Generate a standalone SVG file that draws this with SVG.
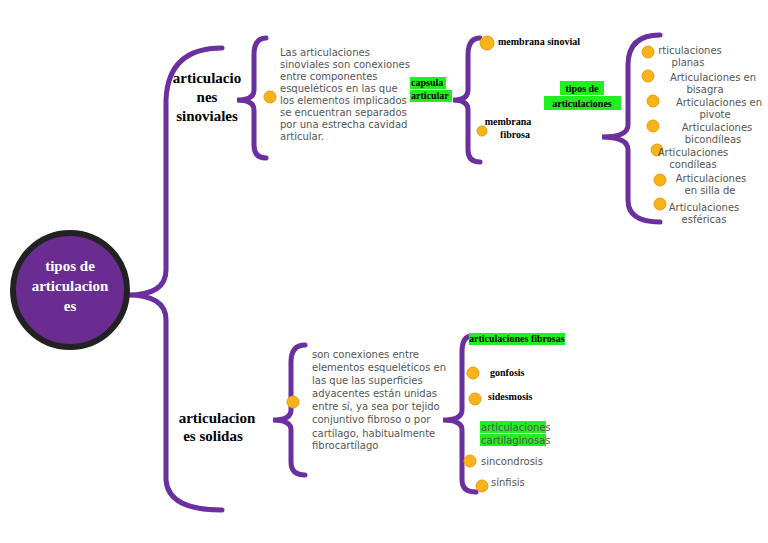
<svg xmlns="http://www.w3.org/2000/svg" width="768" height="543" viewBox="0 0 768 543">
<style>
.br{fill:none;stroke:#6b2fa0;stroke-width:5;stroke-linecap:round}
.dot{fill:#f9b31a;stroke:#e89a10;stroke-width:1}
.g{font-family:"DejaVu Sans",sans-serif;font-size:10px;fill:#555}
.b{font-family:"Liberation Serif",serif;font-weight:bold;font-size:10px;fill:#000}
.h{font-family:"Liberation Serif",serif;font-weight:bold;font-size:15px;fill:#000}
.hl{fill:#22ee22}
</style>
<rect width="768" height="543" fill="#fff"/>
<g id="connectors">
<path class="br" d="M222,48 Q168,48 166,100 L166,270 Q166,295 128,295 Q166,295 166,320 L166,480 Q168,510 222,510"/>
<path class="br" d="M266,38 Q254,38 254,55 L254,90 Q254,100 237,100 Q254,100 254,110 L254,145 Q254,158 266,158"/>
<path class="br" d="M480,38 Q468,38 468,55 L468,90 Q468,100 453,100 Q468,100 468,110 L468,150 Q468,162 480,162"/>
<path class="br" d="M660,35 Q628,35 628,65 L628,125 Q628,137 602,137 Q628,137 628,150 L628,200 Q628,222 660,222"/>
<path class="br" d="M305,345 Q291,345 291,362 L291,410 Q291,420 273,420 Q291,420 291,430 L291,462 Q291,475 305,475"/>
<path class="br" d="M472,336 Q462,336 462,352 L462,410 Q462,420 443,420 Q462,420 462,430 L462,480 Q462,492 476,492"/>
</g>
<g id="root">
<circle cx="70" cy="290" r="57" fill="#6a2c91" stroke="#222" stroke-width="6"/>
<text x="70" y="271" text-anchor="middle" font-family="Liberation Serif,serif" font-weight="bold" font-size="15" fill="#fff">tipos de</text>
<text x="70" y="291" text-anchor="middle" font-family="Liberation Serif,serif" font-weight="bold" font-size="15" fill="#fff">articulacion</text>
<text x="70" y="311" text-anchor="middle" font-family="Liberation Serif,serif" font-weight="bold" font-size="15" fill="#fff">es</text>
</g>
<g id="sinoviales">
<text class="h" x="207" y="83" text-anchor="middle">articulacio</text>
<text class="h" x="207" y="102" text-anchor="middle">nes</text>
<text class="h" x="207" y="121" text-anchor="middle">sinoviales</text>
</g>
<g id="desc1">
<circle class="dot" cx="270" cy="97" r="6"/>
<text class="g"><tspan x="280" y="56">Las articulaciones</tspan><tspan x="280" y="68">sinoviales son conexiones</tspan><tspan x="280" y="80">entre componentes</tspan><tspan x="280" y="92">esqueléticos en las que</tspan><tspan x="280" y="104">los elementos implicados</tspan><tspan x="280" y="116">se encuentran separados</tspan><tspan x="280" y="128">por una estrecha cavidad</tspan><tspan x="280" y="140">articular.</tspan></text>
</g>
<g id="capsula">
<rect class="hl" x="410" y="77" width="36" height="12"/>
<rect class="hl" x="410" y="90" width="42" height="12"/>
<text class="b" x="411" y="86">capsula</text>
<text class="b" x="411" y="99">articular</text>
</g>
<g id="membrana-sinovial">
<circle class="dot" cx="487" cy="43" r="7"/>
<text class="b" x="498" y="45">membrana sinovial</text>
</g>
<g id="membrana-fibrosa">
<circle class="dot" cx="482" cy="131" r="5"/>
<text class="b" x="508" y="125" text-anchor="middle">membrana</text>
<text class="b" x="515" y="138" text-anchor="middle">fibrosa</text>
</g>
<g id="tipos">
<rect class="hl" x="560" y="81" width="44" height="14"/>
<rect class="hl" x="544" y="96" width="77" height="14"/>
<text class="b" font-size="12" x="582" y="92" text-anchor="middle">tipos de</text>
<text class="b" font-size="12" x="582" y="107" text-anchor="middle">articulaciones</text>
</g>
<g id="tipos-list" class="g">
<circle class="dot" cx="648" cy="52" r="6"/><text class="g" x="690" y="54" text-anchor="middle">rticulaciones</text><text class="g" x="688" y="66" text-anchor="middle">planas</text>
<circle class="dot" cx="648" cy="76" r="6"/><text class="g" x="713" y="81" text-anchor="middle">Articulaciones en</text><text class="g" x="705" y="93" text-anchor="middle">bisagra</text>
<circle class="dot" cx="653" cy="101" r="6"/><text class="g" x="719" y="106" text-anchor="middle">Articulaciones en</text><text class="g" x="715" y="118" text-anchor="middle">pivote</text>
<circle class="dot" cx="653" cy="126" r="6"/><text class="g" x="717" y="131" text-anchor="middle">Articulaciones</text><text class="g" x="713" y="143" text-anchor="middle">bicondíleas</text>
<circle class="dot" cx="657" cy="150" r="6"/><text class="g" x="693" y="156" text-anchor="middle">Articulaciones</text><text class="g" x="693" y="168" text-anchor="middle">condíleas</text>
<circle class="dot" cx="660" cy="180" r="6"/><text class="g" x="711" y="182" text-anchor="middle">Articulaciones</text><text class="g" x="710" y="194" text-anchor="middle">en silla de</text>
<circle class="dot" cx="660" cy="204" r="6"/><text class="g" x="704" y="211" text-anchor="middle">Articulaciones</text><text class="g" x="704" y="223" text-anchor="middle">esféricas</text>
</g>
<g id="solidas">
<text class="h" x="217" y="423" text-anchor="middle">articulacion</text>
<text class="h" x="213" y="441" text-anchor="middle">es solidas</text>
</g>
<g id="desc2">
<circle class="dot" cx="293" cy="402" r="6"/>
<text class="g"><tspan x="312" y="358">son conexiones entre</tspan><tspan x="312" y="371">elementos esqueléticos en</tspan><tspan x="312" y="384">las que las superficies</tspan><tspan x="312" y="397">adyacentes están unidas</tspan><tspan x="312" y="410">entre sí, ya sea por tejido</tspan><tspan x="312" y="423">conjuntivo fibroso o por</tspan><tspan x="312" y="437">cartílago, habitualmente</tspan><tspan x="312" y="449">fibrocartílago</tspan></text>
</g>
<g id="fibrosas">
<rect class="hl" x="469" y="333" width="96" height="12"/>
<text class="b" font-size="9" x="469" y="342">articulaciones fibrosas</text>
</g>
<g id="gonfosis"><circle class="dot" cx="473" cy="373" r="6"/><text class="b" x="490" y="376">gonfosis</text></g>
<g id="sindesmosis"><circle class="dot" cx="475" cy="399" r="6"/><text class="b" x="488" y="400">sidesmosis</text></g>
<g id="cartilaginosas">
<rect class="hl" x="480" y="421" width="66" height="12"/>
<rect class="hl" x="480" y="434" width="66" height="12"/>
<text class="g" x="481" y="431" fill="#333">articulaciones</text>
<text class="g" x="481" y="444" fill="#333">cartilaginosas</text>
</g>
<g id="sincondrosis"><circle class="dot" cx="470" cy="461" r="6"/><text class="g" x="481" y="465">sincondrosis</text></g>
<g id="sinfisis"><circle class="dot" cx="482" cy="486" r="6"/><text class="g" x="491" y="486">sínfisis</text></g>
</svg>
